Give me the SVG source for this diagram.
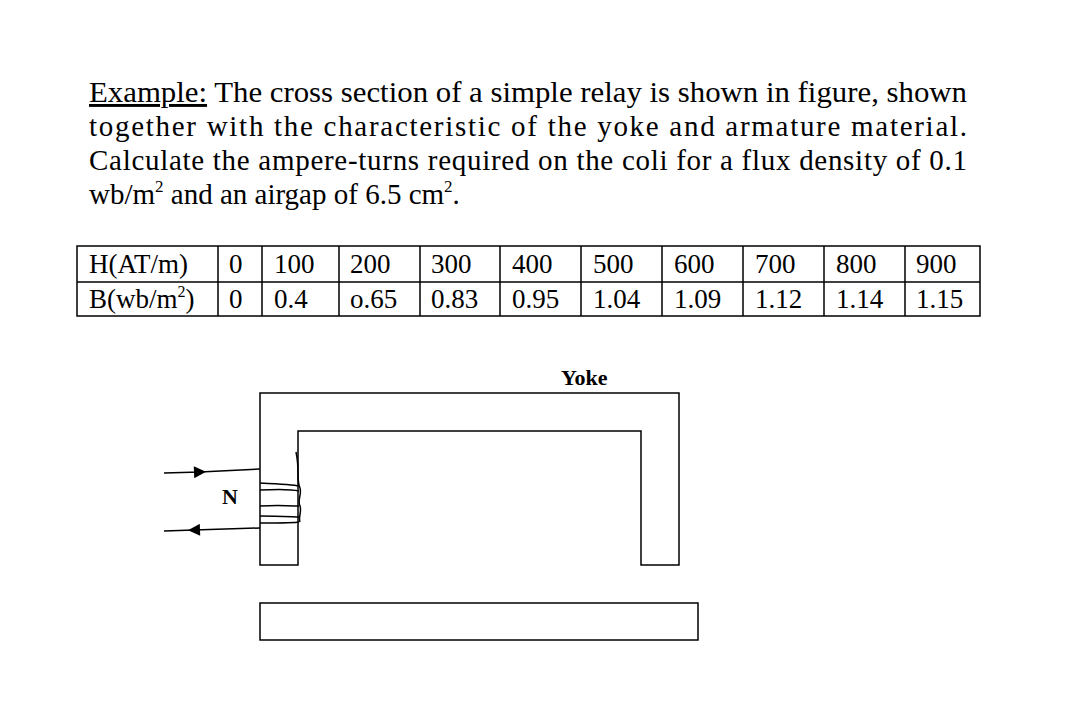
<svg xmlns="http://www.w3.org/2000/svg" width="1080" height="720" viewBox="0 0 1080 720">
<style>
text{font-family:"Liberation Serif","Times New Roman",serif;fill:#000}
.p{font-size:29px}
.t{font-size:27px}
.b{font-size:22px;font-weight:bold}
.l{fill:none;stroke:#000;stroke-width:1.5}
</style>
<defs><marker id="a" viewBox="0 0 10 10" refX="5" refY="5" markerWidth="16" markerHeight="12" orient="auto" markerUnits="userSpaceOnUse"><path d="M0,0L10,5L0,10z"/></marker></defs>
<rect width="1080" height="720" fill="#fff"/>
<g id="para">
<text class="p" x="89" y="102" textLength="878" lengthAdjust="spacingAndGlyphs"><tspan text-decoration="underline">Example:</tspan>  The cross section of a simple relay is shown in figure, shown</text>
<text class="p" x="89" y="136" textLength="878" lengthAdjust="spacing">together with the characteristic of the yoke and armature material.</text>
<text class="p" x="89" y="170" textLength="878" lengthAdjust="spacing">Calculate the ampere-turns required on the coli for a flux density of 0.1</text>
<text class="p" x="89" y="204">wb/m<tspan font-size="17" dy="-12">2</tspan><tspan dy="12"> and an airgap of 6.5 cm</tspan><tspan font-size="17" dy="-12">2</tspan><tspan dy="12">.</tspan></text>
</g>
<g id="table">
<rect class="l" x="77" y="246" width="903" height="70"/>
<line class="l" x1="77" y1="282" x2="980" y2="282"/>
<path class="l" d="M218,246V316M262,246V316M339,246V316M420,246V316M500,246V316M581,246V316M662,246V316M743,246V316M824,246V316M905,246V316"/>
<text class="t" x="89" y="273">H(AT/m)</text>
<text class="t" x="229" y="273">0</text><text class="t" x="274" y="273">100</text><text class="t" x="350" y="273">200</text><text class="t" x="431" y="273">300</text><text class="t" x="512" y="273">400</text><text class="t" x="593" y="273">500</text><text class="t" x="674" y="273">600</text><text class="t" x="755" y="273">700</text><text class="t" x="836" y="273">800</text><text class="t" x="916" y="273">900</text>
<text class="t" x="89" y="308">B(wb/m<tspan font-size="16" dy="-11">2</tspan><tspan dy="11">)</tspan></text>
<text class="t" x="229" y="308">0</text><text class="t" x="274" y="308">0.4</text><text class="t" x="350" y="308">o.65</text><text class="t" x="431" y="308">0.83</text><text class="t" x="512" y="308">0.95</text><text class="t" x="593" y="308">1.04</text><text class="t" x="674" y="308">1.09</text><text class="t" x="755" y="308">1.12</text><text class="t" x="836" y="308">1.14</text><text class="t" x="916" y="308">1.15</text>
</g>
<g id="yoke">
<path class="l" d="M260,565V393H679V565H641V431H298V565Z"/>
<text class="b" x="561" y="385">Yoke</text>
</g>
<g id="armature"><rect class="l" x="260" y="603" width="438" height="37"/></g>
<g id="coil">
<path class="l" d="M260,483C280,484 295,485 299,486M260,490C280,489 295,490 299,491M260,506C280,505 295,506 299,506M260,516C280,516 295,517 299,517M260,523C280,523 295,523 299,522"/>
<path class="l" d="M296,452C300,470 296,480 300,488C302,495 297,500 300,506C302,512 298,517 300,522"/>
<text class="b" x="222" y="504">N</text>
</g>
<g id="connectors">
<path class="l" d="M164,473L200,472L260,469" marker-mid="url(#a)"/>
<path class="l" d="M260,528L194,530L164,531" marker-mid="url(#a)"/>
</g>
</svg>
